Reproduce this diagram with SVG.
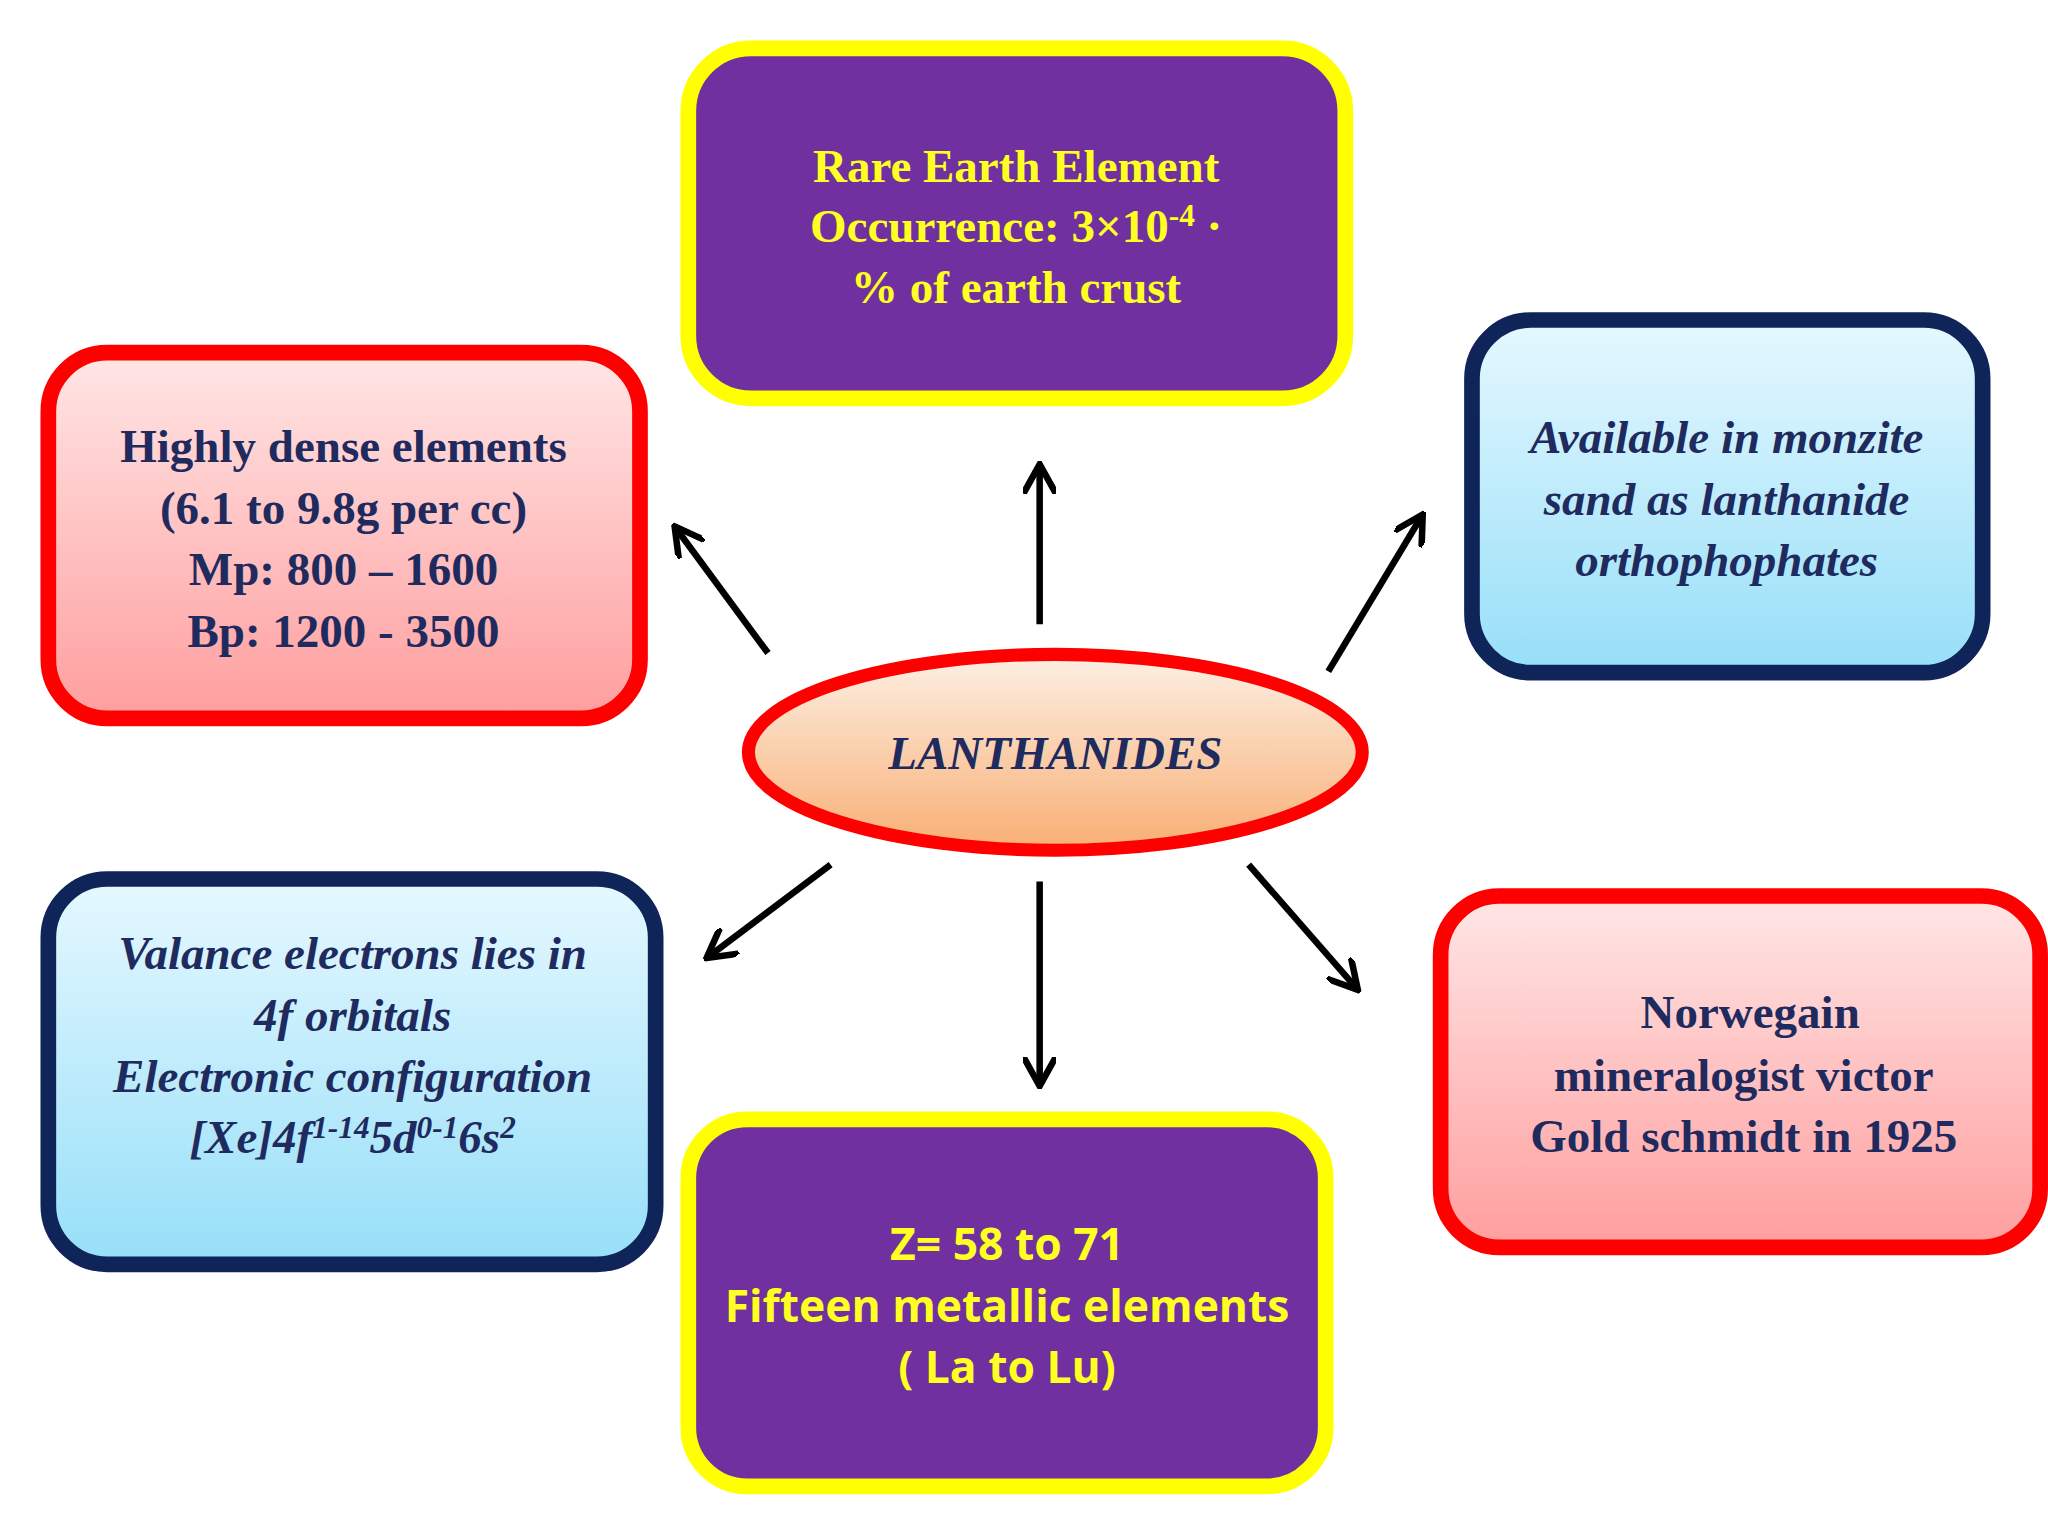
<svg xmlns="http://www.w3.org/2000/svg" width="2048" height="1536" viewBox="0 0 2048 1536">
<defs>
<linearGradient id="pink" x1="0" y1="0" x2="0" y2="1"><stop offset="0" stop-color="#FFE6E6"/><stop offset="1" stop-color="#FF9E9E"/></linearGradient>
<linearGradient id="cyan" x1="0" y1="0" x2="0" y2="1"><stop offset="0" stop-color="#E6F8FF"/><stop offset="1" stop-color="#96DFF8"/></linearGradient>
<linearGradient id="peach" x1="0" y1="0" x2="0" y2="1"><stop offset="0" stop-color="#FDF0E4"/><stop offset="1" stop-color="#F8AE74"/></linearGradient>
<marker id="ah" viewBox="0 0 10 10" refX="8" refY="5" markerWidth="5" markerHeight="5" orient="auto"><path d="M0,0 L9,5 L0,10" fill="none" stroke="#000" stroke-width="2"/></marker>
<style>
.serif{font-family:"Liberation Serif","Times New Roman",serif;font-weight:bold;font-size:36px;text-anchor:middle}
.it{font-style:italic}
.sans{font-family:"Open Sans","Liberation Sans",sans-serif;font-weight:bold;font-size:34px;text-anchor:middle;fill:#FFFF22}
.navy{fill:#1F2B5E}
.yel{fill:#FFFF22}
.purple{fill:#7030A0;stroke:#FFFF00;stroke-width:12}
.red{fill:url(#pink);stroke:#FF0000;stroke-width:12}
.blue{fill:url(#cyan);stroke:#0F2458;stroke-width:12}
.arr{stroke:#000;stroke-width:5;fill:none;marker-end:url(#ah)}
</style>
</defs>
<rect width="2048" height="1536" fill="#fff"/>
<g transform="scale(1.3061)">
<g id="connectors">
<line class="arr" x1="588" y1="500" x2="518" y2="405"/>
<line class="arr" x1="796" y1="478" x2="796" y2="358"/>
<line class="arr" x1="1017" y1="514" x2="1088" y2="396"/>
<line class="arr" x1="636" y1="662" x2="543" y2="732"/>
<line class="arr" x1="796" y1="675" x2="796" y2="829"/>
<line class="arr" x1="956" y1="662" x2="1038" y2="756"/>
</g>
<g id="top">
<rect class="purple" x="527" y="37" width="503" height="268" rx="48"/>
<text class="serif yel" x="778" y="139">Rare Earth Element</text>
<text class="serif yel" x="778" y="185">Occurrence: 3×10<tspan dy="-12" font-size="24">-4</tspan><tspan dy="12"> ·</tspan></text>
<text class="serif yel" x="778" y="232">% of earth crust</text>
</g>
<g id="topleft">
<rect class="red" x="37" y="270" width="453" height="280" rx="45"/>
<text class="serif navy" x="263" y="354">Highly dense elements</text>
<text class="serif navy" x="263" y="401">(6.1 to 9.8g per cc)</text>
<text class="serif navy" x="263" y="448">Mp: 800 – 1600</text>
<text class="serif navy" x="263" y="495">Bp: 1200 - 3500</text>
</g>
<g id="topright">
<rect class="blue" x="1127" y="245" width="391" height="270" rx="45"/>
<text class="serif it navy" x="1322" y="347">Available in monzite</text>
<text class="serif it navy" x="1322" y="394">sand as lanthanide</text>
<text class="serif it navy" x="1322" y="441">orthophophates</text>
</g>
<g id="center">
<ellipse cx="808" cy="576" rx="235" ry="75" fill="url(#peach)" stroke="#FF0000" stroke-width="10"/>
<text class="serif it navy" x="808" y="589">LANTHANIDES</text>
</g>
<g id="bottomleft">
<rect class="blue" x="37" y="673" width="465" height="295" rx="45"/>
<text class="serif it navy" x="270" y="742">Valance electrons lies in</text>
<text class="serif it navy" x="270" y="789">4f orbitals</text>
<text class="serif it navy" x="270" y="836">Electronic configuration</text>
<text class="serif it navy" x="270" y="883">[Xe]4f<tspan dy="-12" font-size="24">1-14</tspan><tspan dy="12">5d</tspan><tspan dy="-12" font-size="24">0-1</tspan><tspan dy="12">6s</tspan><tspan dy="-12" font-size="24">2</tspan></text>
</g>
<g id="bottom">
<rect class="purple" x="527" y="857" width="488" height="281" rx="45"/>
<text class="sans" x="771" y="965">Z= 58 to 71</text>
<text class="sans" x="771" y="1012">Fifteen metallic elements</text>
<text class="sans" x="771" y="1059">( La to Lu)</text>
</g>
<g id="bottomright">
<rect class="red" x="1103" y="686" width="459" height="269" rx="45"/>
<text class="serif navy" x="1340" y="787">Norwegain</text>
<text class="serif navy" x="1335" y="835">mineralogist victor</text>
<text class="serif navy" x="1335" y="882">Gold schmidt in 1925</text>
</g>
</g>
</svg>
